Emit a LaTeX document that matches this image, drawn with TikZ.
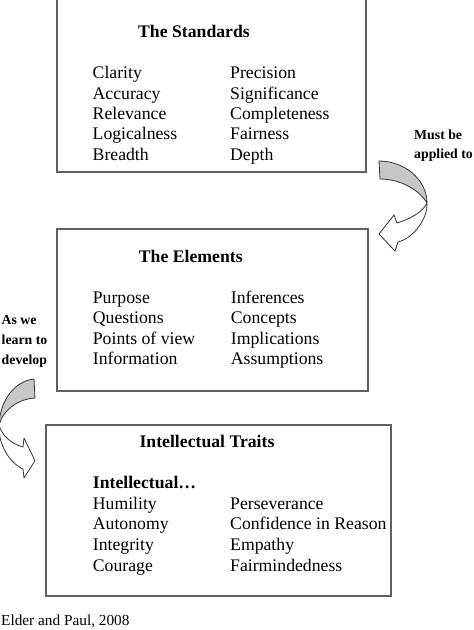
\documentclass[tikz,border=0pt]{standalone}
\usepackage{fontspec}
\setmainfont{Liberation Serif}
\begin{document}
\begin{tikzpicture}[x=1pt,y=-1pt,
  panel/.style={draw=black!62, line width=1.3pt, inner sep=0pt, outer sep=0pt},
  item/.style={anchor=base west, inner sep=0pt, font=\fontsize{17.7}{20.4}\selectfont},
  boldhead/.style={anchor=base, inner sep=0pt, font=\fontsize{17.7}{20.4}\selectfont\bfseries},
  side/.style={anchor=base west, inner sep=0pt, font=\fontsize{13.8}{16}\selectfont\bfseries},
  ribbonback/.style={fill=black!22, draw=black!80, line width=0.8pt, line join=round},
  ribbonfront/.style={fill=white, draw=black!80, line width=0.8pt, line join=round}]
\useasboundingbox (0,0) rectangle (474,630);
\clip (0,0) rectangle (474,630);

% ---- panels ----
\node[panel, minimum width=309pt, minimum height=177pt] (standards) at (211.5,83.5) {};
\node[panel, minimum width=311pt, minimum height=162pt] (elements) at (212.5,310) {};
\node[panel, minimum width=345pt, minimum height=171pt] (traits) at (218.5,510.5) {};

% ---- The Standards ----
\node[boldhead] (stdtitle) at (194,37) {The Standards};
\node[item] (s1) at (92.5,78.7) {Clarity};
\node[item] (s2) at (92.5,99.1) {Accuracy};
\node[item] (s3) at (92.5,119.5) {Relevance};
\node[item] (s4) at (92.5,139.9) {Logicalness};
\node[item] (s5) at (92.5,160.3) {Breadth};
\node[item] (s6) at (230,78.7) {Precision};
\node[item] (s7) at (230,99.1) {Significance};
\node[item] (s8) at (230,119.5) {Completeness};
\node[item] (s9) at (230,139.9) {Fairness};
\node[item] (s10) at (230,160.3) {Depth};

% ---- The Elements ----
\node[boldhead] (eltitle) at (190.8,262.7) {The Elements};
\node[item] (e1) at (92.7,303.3) {Purpose};
\node[item] (e2) at (92.7,323.8) {Questions};
\node[item] (e3) at (92.7,344.3) {Points of view};
\node[item] (e4) at (92.7,364.8) {Information};
\node[item] (e5) at (230.7,303.3) {Inferences};
\node[item] (e6) at (230.7,323.8) {Concepts};
\node[item] (e7) at (230.7,344.3) {Implications};
\node[item] (e8) at (230.7,364.8) {Assumptions};

% ---- Intellectual Traits ----
\node[boldhead] (trtitle) at (207,447.3) {Intellectual Traits};
\node[item, font=\fontsize{17.7}{20.4}\selectfont\bfseries] (t0) at (92.7,488.3) {Intellectual…};
\node[item] (t1) at (92.7,509.3) {Humility};
\node[item] (t2) at (92.7,529.9) {Autonomy};
\node[item] (t3) at (92.7,550.5) {Integrity};
\node[item] (t4) at (92.7,571.1) {Courage};
\node[item] (t5) at (230,509.3) {Perseverance};
\node[item] (t6) at (230,529.9) {Confidence in Reason};
\node[item] (t7) at (230,550.5) {Empathy};
\node[item] (t8) at (230,571.1) {Fairmindedness};

% ---- side labels ----
\node[side] (must1) at (414,139.3) {Must be};
\node[side] (must2) at (414,158.8) {applied to};
\node[side] (learn1) at (1.5,324) {As we};
\node[side] (learn2) at (1.5,344.3) {learn to};
\node[side] (learn3) at (1.5,364.6) {develop};

% ---- curved ribbon arrow on the right ----
\coordinate (ra1) at (379,161);
\coordinate (ra2) at (380,179);
\coordinate (rtw) at (427,203);
\draw[ribbonback] (ra1) .. controls (405,161) and (427,180) .. (rtw)
  .. controls (418,188) and (398,179) .. (ra2) -- cycle;
\draw[ribbonfront] (rtw) .. controls (428,218) and (414,238) .. (398,242)
  -- (395,251) -- (379,234) -- (394,215) -- (397,223)
  .. controls (410,219) and (423,212) .. (rtw);

% ---- curved ribbon arrow on the left ----
\coordinate (la1) at (34,379);
\coordinate (la2) at (35,398);
\coordinate (ltw) at (-1,425);
\draw[ribbonback] (la1) .. controls (15,381) and (0,400) .. (ltw)
  .. controls (3,410) and (18,399) .. (la2) -- cycle;
\draw[ribbonfront] (ltw) .. controls (-2,445) and (10,463) .. (23,469)
  -- (24,478) -- (35,460.7) -- (24,438) -- (23,447)
  .. controls (12,444) and (2,436) .. (ltw);

% ---- source ----
\node[anchor=base west, inner sep=0pt, font=\fontsize{15.3}{18}\selectfont] (source) at (1,625) {Elder and Paul, 2008};
\end{tikzpicture}
\end{document}
